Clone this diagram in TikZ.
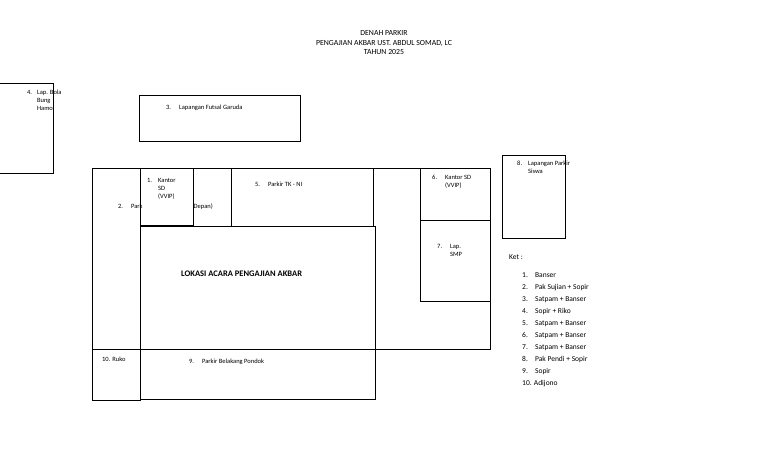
\documentclass[tikz,border=0pt]{standalone}
\usepackage{fontspec}
\setmainfont{Carlito}
\begin{document}
\begin{tikzpicture}[x=1pt,y=-1pt,box/.style={draw,line width=0.8pt},
 t/.style={font=\fontsize{6.5}{8}\selectfont,anchor=north west,inner sep=0pt,align=left}]
\useasboundingbox (0,0) rectangle (768,466);
\node[font=\fontsize{7.8}{9.5}\selectfont,align=center] (title) at (384,43) {DENAH PARKIR\\PENGAJIAN AKBAR UST. ABDUL SOMAD, LC\\TAHUN 2025};
\draw[box] (-1,83) rectangle (53,173) coordinate (bola);
\draw[box] (139,95) rectangle (300,141) coordinate (futsal);
\draw[box] (92,168) rectangle (490,349) coordinate (main);
\draw[box] (92,168) rectangle (140,400) coordinate (left);
\draw[box] (140,168) rectangle (193,225) coordinate (k1);
\draw[box] (231,168) rectangle (373,226) coordinate (tk);
\draw[box] (140,226) rectangle (375,349) coordinate (lok);
\draw[box] (140,349) rectangle (375,399) coordinate (blk);
\draw[box] (420,168) rectangle (490,220) coordinate (k6);
\draw[box] (420,220) rectangle (490,301) coordinate (smp);
\draw[box] (502,155) rectangle (565,238) coordinate (siswa);
\node[t] (n4) at (27,90) {4.\hspace{5pt}\parbox[t]{30pt}{Lap. Bola\\Bung\\Hamo}};
\node[t] (n3) at (166,105) {3.\hspace{8pt}Lapangan Futsal Garuda};
\node[t] (n2) at (118,204) {2.\hspace{8pt}Park\hspace{51pt}Depan)};
\node[t,fill=white] (n1) at (147,178) {1.\hspace{6pt}\parbox[t]{30pt}{Kantor\\SD\\(VVIP)}};
\node[t] (n5) at (255,182) {5.\hspace{8pt}Parkir TK - NI};
\node[font=\fontsize{8.5}{10}\selectfont\bfseries,anchor=west,inner sep=0pt] (lk) at (181,274) {LOKASI ACARA PENGAJIAN AKBAR};
\node[t] (n10) at (102,357) {10. Ruko};
\node[t] (n9) at (189,359) {9.\hspace{8pt}Parkir Belakang Pondok};
\node[t] (n6) at (432,175) {6.\hspace{8pt}\parbox[t]{30pt}{Kantor SD\\(VVIP)}};
\node[t] (n7) at (437,244) {7.\hspace{8pt}\parbox[t]{20pt}{Lap.\\SMP}};
\node[t] (n8) at (517,161) {8.\hspace{6pt}\parbox[t]{50pt}{Lapangan Parkir\\Siswa}};
\node[t,font=\fontsize{7.5}{9}\selectfont] (ket) at (509,254) {Ket :};
\node[t,font=\fontsize{7.5}{12.1}\selectfont] (list) at (522,272) {%
1.\hspace{5pt} Banser\\2.\hspace{5pt} Pak Sujian + Sopir\\3.\hspace{5pt} Satpam + Banser\\4.\hspace{5pt} Sopir + Riko\\5.\hspace{5pt} Satpam + Banser\\6.\hspace{5pt} Satpam + Banser\\7.\hspace{5pt} Satpam + Banser\\8.\hspace{5pt} Pak Pendi + Sopir\\9.\hspace{5pt} Sopir\\10. Adijono};
\end{tikzpicture}
\end{document}
